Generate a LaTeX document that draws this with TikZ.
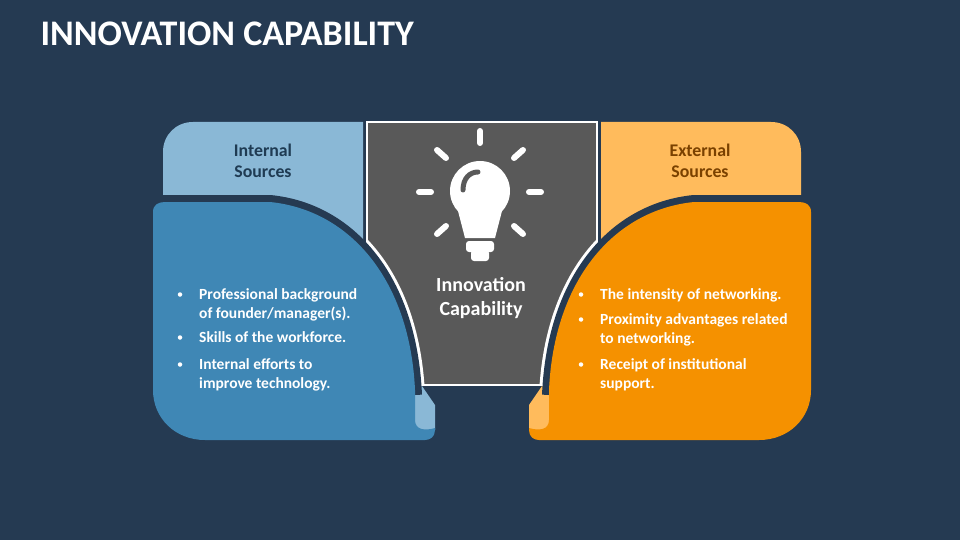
\documentclass[tikz,border=0pt]{standalone}
\usepackage{fontspec}
\setmainfont{Carlito}
\definecolor{bg}{HTML}{253A52}
\definecolor{lblue}{HTML}{8AB8D6}
\definecolor{dblue}{HTML}{3F87B5}
\definecolor{lorange}{HTML}{FFBB5C}
\definecolor{dorange}{HTML}{F59100}
\definecolor{gbox}{HTML}{595959}
\definecolor{tabblue}{HTML}{1F3B53}
\definecolor{taborange}{HTML}{7A4100}
\tikzset{
 bul/.style={anchor=north west,text=white,font=\bfseries\fontsize{15.5}{19}\selectfont,align=left,inner sep=0pt},
 dot/.style={circle,fill=white,inner sep=0pt,minimum size=4.5pt},
 tabtxt/.style={font=\bfseries\fontsize{17.8}{21}\selectfont,align=center},
 ray/.style={white,line width=6pt,line cap=round}
}
\newcommand{\sidepanel}[3]{%
 \fill[#1] (163,152) .. controls (163,135) and (176,122) .. (193,122) -- (363,122) -- (363,300) -- (435,405) -- (435,430) -- (300,430) -- (163,300) -- cycle;
 \begin{scope}
  \clip (367,122) rectangle (597,385);
  \draw[white,line width=20pt] (270,202) .. controls (350,210) and (410,280) .. (415,395);
 \end{scope}
 \draw[bg,line width=14pt] (160,202) -- (270,202) .. controls (350,210) and (410,280) .. (415,395);
 \fill[#2] (270,202) .. controls (350,210) and (410,280) .. (415,390) -- (415,420) .. controls (415,430) and (425,431) .. (435,428) -- (435,430) .. controls (435,437) and (430,440) .. (425,440) -- (205,440) .. controls (175,440) and (153,418) .. (153,390) -- (153,212) .. controls (153,205) and (158,202) .. (165,202) -- cycle;
}
\begin{document}
\begin{tikzpicture}[x=1pt,y=-1pt]
\fill[bg] (0,0) rectangle (960,540);
\node[anchor=west,text=white,font=\bfseries\fontsize{36}{40}\selectfont] (title) at (37,34) {INNOVATION CAPABILITY};
\fill[gbox] (367,122) rectangle (597,385);
\draw[white,line width=2pt] (367,122) rectangle (597,385);
\sidepanel{lblue}{dblue}{}
\begin{scope}[xshift=964pt,xscale=-1]
\sidepanel{lorange}{dorange}{}
\end{scope}
% bulb
\fill[white] (480,191) circle (30);
\fill[white] (458,211) -- (502,211) -- (495,238) -- (465,238) -- cycle;
\fill[white,rounded corners=3pt] (466,241) rectangle (494,252);
\fill[white,rounded corners=3pt] (471,250) rectangle (489,261);
\draw[gbox,line width=5pt,line cap=round] (463,190) .. controls (463,178) and (470,172) .. (478,172);
\draw[ray] (480,131) -- (480,143);
\draw[ray] (437,150) -- (446,158);
\draw[ray] (523,150) -- (514,158);
\draw[ray] (419,192) -- (431,192);
\draw[ray] (529,192) -- (541,192);
\draw[ray] (437,234) -- (446,226);
\draw[ray] (523,234) -- (514,226);
\node[text=white,font=\bfseries\fontsize{20}{24}\selectfont,align=center] (cap) at (481,298) {Innovation\\Capability};
\node[tabtxt,text=tabblue] (int) at (263,161) {Internal\\Sources};
\node[tabtxt,text=taborange] (ext) at (700,161) {External\\Sources};
% left bullets
\node[dot] (l1d) at (180,294.5) {};
\node[bul] (l1) at (199,288) {Professional background\\of founder/manager(s).};
\node[dot] (l2d) at (180,337.5) {};
\node[bul] (l2) at (199,331) {Skills of the workforce.};
\node[dot] (l3d) at (180,364.5) {};
\node[bul] (l3) at (199,358) {Internal efforts to\\improve technology.};
% right bullets
\node[dot] (r1d) at (581,294.5) {};
\node[bul] (r1) at (600,288) {The intensity of networking.};
\node[dot] (r2d) at (581,319.5) {};
\node[bul] (r2) at (600,313) {Proximity advantages related\\to networking.};
\node[dot] (r3d) at (581,364.5) {};
\node[bul] (r3) at (600,358) {Receipt of institutional\\support.};
\end{tikzpicture}
\end{document}
